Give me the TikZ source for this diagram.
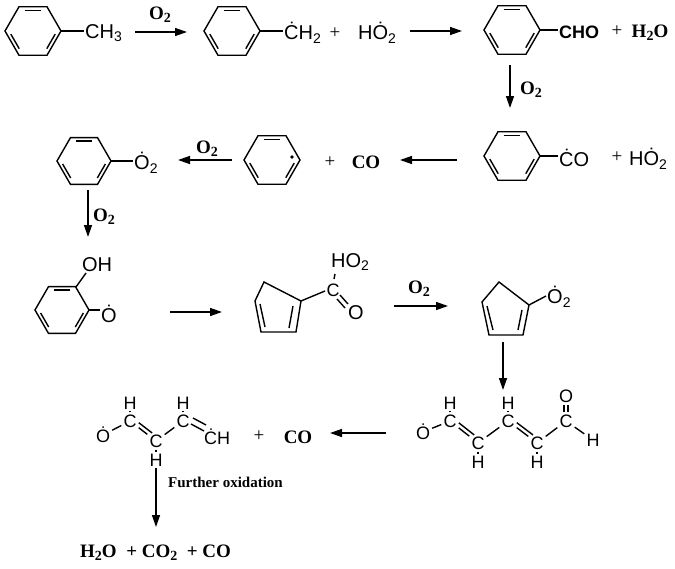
\documentclass[tikz,border=0pt]{standalone}
\usepackage{fontspec}
\setmainfont{Liberation Serif}
\setsansfont{Liberation Sans}
\usetikzlibrary{calc,arrows.meta}
\newcommand\lsub[1]{\raisebox{-0.35ex}{\fontsize{14}{14}\selectfont #1}}
\newcommand\hexring[3]{%
 \draw[bond] ($(#1,#2)+(0:#3)$) -- ($(#1,#2)+(60:#3)$) -- ($(#1,#2)+(120:#3)$) -- ($(#1,#2)+(180:#3)$) -- ($(#1,#2)+(240:#3)$) -- ($(#1,#2)+(300:#3)$) -- cycle;
 \foreach \a in {0,120,240}{\draw[bond] ($(#1,#2)+(\a+8:0.8*#3)$) -- ($(#1,#2)+(\a+52:0.8*#3)$);}}
\tikzset{bond/.style={line width=1.4pt},
 dbl/.style={line width=1.4pt,shorten <=8pt,shorten >=8pt},
 rxn/.style={line width=1.4pt,-{Triangle[length=12pt,width=8pt]}},
 sf/.style={font=\sffamily\fontsize{20}{20}\selectfont,inner sep=0pt},
 sfs/.style={font=\sffamily\fontsize{18}{18}\selectfont,inner sep=2pt},
 rm/.style={font=\bfseries\fontsize{19}{19}\selectfont,inner sep=0pt},
 plus/.style={font=\fontsize{19}{19}\selectfont,inner sep=0pt}}
\begin{document}
\begin{tikzpicture}[x=1pt,y=-1pt]
\useasboundingbox (0,0) rectangle (675,568);
% row 1
\hexring{33}{31}{28}
\draw[bond] (61,31) -- (84,31);
\node[sf,anchor=west] (ch3) at (85,33) {CH\lsub{3}};
\coordinate (a1s) at (135,32); \coordinate (a1e) at (187,32);
\draw[rxn] (a1s) -- (a1e);
\node[rm] (o2a) at (160,15) {O\lsub{2}};
\hexring{232}{31}{28}
\draw[bond] (260,31) -- (283,31);
\node[sf,anchor=west] (ch2) at (284,33) {\.{C}H\lsub{2}};
\node[plus] (p1) at (335,33) {+};
\node[sf] (ho2a) at (377,33) {H\.{O}\lsub{2}};
\coordinate (a2s) at (410,31); \coordinate (a2e) at (462,31);
\draw[rxn] (a2s) -- (a2e);
\hexring{512}{30}{28}
\draw[bond] (540,30) -- (558,30);
\node[sf,anchor=west,font=\sffamily\bfseries\fontsize{18}{18}\selectfont] (cho) at (559,32) {CHO};
\node[plus] (p2) at (617,31) {+};
\node[rm] (h2o) at (650,33) {H\lsub{2}O};
% down arrow
\coordinate (d1s) at (510,65); \coordinate (d1e) at (510,108);
\draw[rxn] (d1s) -- (d1e);
\node[rm] (o2b) at (531,90) {O\lsub{2}};
% row 2
\hexring{512}{156}{28}
\draw[bond] (540,156) -- (558,156);
\node[sf,anchor=west] (co1) at (559,158) {\.{C}O};
\node[plus] (p3) at (617,157) {+};
\node[sf] (ho2b) at (648,159) {H\.{O}\lsub{2}};
\coordinate (l1s) at (457,160); \coordinate (l1e) at (400,160);
\draw[rxn] (l1s) -- (l1e);
\hexring{272}{160}{28}
\fill (292,157) circle (1.8);
\node[plus] (p4) at (330,162) {+};
\node[rm] (co2) at (366,162) {CO};
\coordinate (l2s) at (232,160); \coordinate (l2e) at (178,160);
\draw[rxn] (l2s) -- (l2e);
\node[rm] (o2c) at (207,149) {O\lsub{2}};
\hexring{84}{161}{27}
\draw[bond] (111,161) -- (133,161);
\node[sf,anchor=west] (oo) at (134,163) {\.{O}\lsub{2}};
\coordinate (d2s) at (88,190); \coordinate (d2e) at (88,237);
\draw[rxn] (d2s) -- (d2e);
\node[rm] (o2d) at (104,217) {O\lsub{2}};
% phenoxy
\hexring{62}{310}{27}
\draw[bond] (76,287) -- (86,273);
\node[sf] (oh) at (97,265) {OH};
\draw[bond] (89,310) -- (100,310);
\node[sf,anchor=west] (od) at (101,314) {\.{O}};
\coordinate (a3s) at (170,312); \coordinate (a3e) at (222,312);
\draw[rxn] (a3s) -- (a3e);
% cyclopentadiene with C(=O)HO2
\draw[bond] (264,282) -- (301,301) -- (296,332) -- (261,332) -- (255,301) -- cycle;
\draw[bond] (260,304) -- (265,327);
\draw[bond] (293,306) -- (289,328);
\draw[bond] (301,301) -- (325,291);
\node[sfs,inner sep=0pt] (cc) at (333,290) {C};
\draw[bond] (334,279) -- (335,274);
\node[sf] (ho2c) at (350,262) {HO\lsub{2}};
\draw[bond] (340,295) -- (348,304);
\draw[bond] (337,299) -- (345,308);
\node[sf] (o3) at (356,313) {O};
\coordinate (a4s) at (394,306); \coordinate (a4e) at (448,306);
\draw[rxn] (a4s) -- (a4e);
\node[rm] (o2e) at (419,289) {O\lsub{2}};
% cyclopentadienyl peroxy
\draw[bond] (499,282) -- (529,305) -- (523,335) -- (489,335) -- (482,302) -- cycle;
\draw[bond] (487,306) -- (493,330);
\draw[bond] (522,310) -- (518,330);
\draw[bond] (529,305) -- (546,296);
\node[sf,anchor=west] (oo2) at (547,297) {\.{O}\lsub{2}};
\coordinate (d3s) at (503,342); \coordinate (d3e) at (503,390);
\draw[rxn] (d3s) -- (d3e);
% right chain
\begin{scope}[every node/.style={sfs}]
\node (r0) at (423,432) {\.{O}};
\node (r1) at (450,421) {C}; \node (r1h) at (450,403) {H};
\node (r2) at (478,443) {C}; \node (r2h) at (478,462) {H};
\node (r3) at (508,421) {C}; \node (r3h) at (508,403) {H};
\node (r4) at (537,443) {C}; \node (r4h) at (537,462) {H};
\node (r5) at (566,421) {C}; \node (r5o) at (566,396) {O};
\node (r6) at (593,440) {H};
\end{scope}
\draw[bond] (r0) -- (r1); \draw[bond] (r1) -- (r1h);
\draw[bond] (r1) -- (r2); \draw[dbl] ($(r1)!4pt!90:(r2)$) -- ($(r2)!4pt!-90:(r1)$);
\draw[bond] (r2) -- (r2h); \draw[bond] (r2) -- (r3); \draw[bond] (r3) -- (r3h);
\draw[bond] (r3) -- (r4); \draw[dbl] ($(r3)!4pt!90:(r4)$) -- ($(r4)!4pt!-90:(r3)$);
\draw[bond] (r4) -- (r4h); \draw[bond] (r4) -- (r5);
\draw[bond] ([xshift=-2pt]r5.north) -- ([xshift=-2pt]r5o.south);
\draw[bond] ([xshift=2pt]r5.north) -- ([xshift=2pt]r5o.south);
\draw[bond] (r5) -- (r6);
\coordinate (l3s) at (386,433); \coordinate (l3e) at (330,433);
\draw[rxn] (l3s) -- (l3e);
% left chain
\begin{scope}[every node/.style={sfs}]
\node (s0) at (103,435) {\.{O}};
\node (s1) at (130,421) {C}; \node (s1h) at (130,403) {H};
\node (s2) at (156,441) {C}; \node (s2h) at (156,460) {H};
\node (s3) at (183,421) {C}; \node (s3h) at (183,403) {H};
\node[anchor=west,inner sep=0pt] (s4) at (204,437) {\.{C}H};
\end{scope}
\draw[bond] (s0) -- (s1); \draw[bond] (s1) -- (s1h);
\draw[bond] (s1) -- (s2); \draw[dbl] ($(s1)!4pt!90:(s2)$) -- ($(s2)!4pt!-90:(s1)$);
\draw[bond] (s2) -- (s2h); \draw[bond] (s2) -- (s3); \draw[bond] (s3) -- (s3h);
\draw[bond] (191,424) -- (204,431); \draw[bond] (193,418) -- (206,425);
\node[plus] (p5) at (259,436) {+};
\node[rm] (co3) at (298,437) {CO};
\coordinate (d4s) at (156,468); \coordinate (d4e) at (156,527);
\draw[rxn] (d4s) -- (d4e);
\node[rm,anchor=west,font=\bfseries\fontsize{15}{15}\selectfont] (fo) at (168,482) {Further oxidation};
\node[rm,anchor=west] (fin) at (80,553) {H\lsub{2}O \ +\ CO\lsub{2} \ +\ CO};
\end{tikzpicture}
\end{document}
